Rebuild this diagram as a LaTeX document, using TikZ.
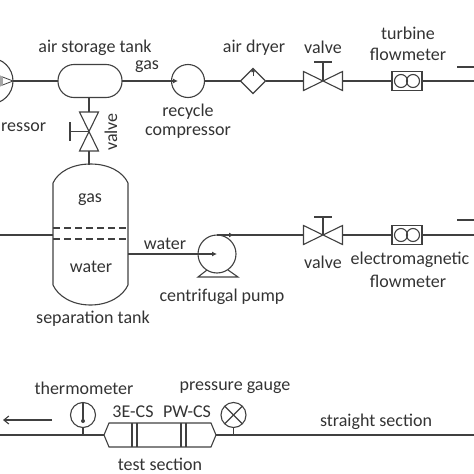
\documentclass[tikz,border=0pt]{standalone}
\usepackage{fontspec}
\setmainfont{Carlito}
\usetikzlibrary{arrows.meta, calc, positioning, shapes.geometric}
\definecolor{linegray}{HTML}{404040}
\definecolor{textgray}{HTML}{333333}

\begin{document}
\begin{tikzpicture}[
    x=1pt, y=-1pt,
    pipe/.style={linegray, line width=1.1pt, outer sep=0pt},
    flow/.style={pipe, -{Latex[length=5pt,width=5pt]}},
    lbl/.style={textgray, font=\fontsize{18}{21}\selectfont, inner sep=0pt},
    valvebox/.style={minimum width=39pt, minimum height=19pt, inner sep=0pt, outer sep=0pt},
    meter/.style={pipe, draw, minimum width=30pt, minimum height=19pt, inner sep=0pt},
    gauge/.style={pipe, draw, circle, minimum size=25pt, inner sep=0pt},
]
\def\yGas{81}     % gas line
\def\yWater{235}  % water line
\def\yTest{435}   % test line
\def\xv{323}      % x of the two horizontal valves
\def\xm{407}      % x of the two flowmeters

\clip (0,0) rectangle (474,474);

% --- gas line ---
\node[pipe, draw, circle, minimum size=46pt, inner sep=0pt] (mainComp) at (-10,\yGas) {};
\node[pipe, draw, minimum width=64pt, minimum height=33pt, rounded corners=16pt] (airTank) at (90,\yGas) {};
\node[pipe, draw, circle, minimum size=33pt, inner sep=0pt] (recycle) at (188,\yGas) {};
\node[pipe, draw, diamond, aspect=1, minimum size=25pt, inner sep=0pt] (dryer) at (253,\yGas) {};
\node[valvebox] (valveGas) at (\xv,\yGas) {};
\node[meter] (meterGas) at (\xm,\yGas) {};
\coordinate (recycleIn) at (178,\yGas);
\coordinate (gasEnd) at (474,\yGas);
\coordinate (handleGas) at (\xv,62);

\draw[pipe] (mainComp.east) -- (airTank.west);
\draw[flow] (airTank.east) -- (recycleIn);
\draw[pipe] (recycle.east) -- (dryer.west);
\draw[pipe] (dryer.east) -- (valveGas.west);
\draw[pipe] (valveGas.east) -- (meterGas.west);
\draw[pipe] (meterGas.east) -- (gasEnd);
\draw[pipe] (457,67) -- (474,67);

% compressor mark, cut by the edge
\draw[pipe, line width=.8pt] (13,\yGas) -- (0,76) (13,\yGas) -- (0,86);
\fill[gray!70] (0,76) rectangle (3,86);

% dryer mark
\draw[pipe, line width=.8pt, -{Latex[length=3.5pt,width=4pt]}] (dryer.center) ++(0,-5) -- (dryer.north);

% --- valve on the gas line ---
\draw[pipe] (valveGas.north west) -- (valveGas.south east) -- (valveGas.north east) -- (valveGas.south west) -- cycle;
\draw[pipe] (valveGas.center) -- (handleGas);
\draw[pipe] ($(handleGas)+(-9,0)$) -- ($(handleGas)+(9,0)$);

% --- link valve between the tanks ---
\node[valvebox, rotate=90] (valveLink) at (89,131.5) {};
\coordinate (sepTop) at (89,164.5);
\coordinate (handleLink) at (70,131.5);
\draw[pipe] (valveLink.north west) -- (valveLink.south east) -- (valveLink.north east) -- (valveLink.south west) -- cycle;
\draw[pipe] (valveLink.center) -- (handleLink);
\draw[pipe] ($(handleLink)+(0,-9.5)$) -- ($(handleLink)+(0,9.5)$);
\draw[pipe] (airTank.south -| valveLink) -- (valveLink.east);
\draw[pipe] (valveLink.west) -- (sepTop);

% --- separation tank ---
\draw[pipe] (53,183) .. controls (58,172) and (72,164) .. (90.5,164)
      .. controls (109,164) and (123,172) .. (128,183) -- (128,285)
      .. controls (123,296) and (109,305) .. (90.5,305)
      .. controls (72,305) and (58,296) .. (53,285) -- cycle;
\draw[pipe, dashed, dash pattern=on 7pt off 4pt] (53,228) -- (128,228);
\draw[pipe, dashed, dash pattern=on 7pt off 4pt] (53,239) -- (128,239);

% --- water line ---
\node[pipe, draw, circle, minimum size=38pt, inner sep=0pt] (pump) at (217,254) {};
\node[valvebox] (valveWater) at (\xv,\yWater) {};
\node[meter] (meterWater) at (\xm,\yWater) {};
\coordinate (sepLeft) at (53,\yWater);
\coordinate (waterStart) at (0,\yWater);
\coordinate (sepOut) at (128,254);
\coordinate (waterEnd) at (474,\yWater);
\coordinate (handleWater) at (\xv,217);

\draw[pipe] (waterStart) -- (sepLeft);
\draw[flow] (sepOut) -- (pump.center);
\draw[pipe] (pump.north) -- (valveWater.west);
\draw[flow] (pump.north) -- ++(17,0);
\draw[pipe] (valveWater.east) -- (meterWater.west);
\draw[pipe] (meterWater.east) -- (waterEnd);
\draw[pipe] (457,220) -- (474,220);
\draw[pipe] (valveWater.north west) -- (valveWater.south east) -- (valveWater.north east) -- (valveWater.south west) -- cycle;
\draw[pipe] (valveWater.center) -- (handleWater);
\draw[pipe] ($(handleWater)+(-9,0)$) -- ($(handleWater)+(9,0)$);

% pump feet
\draw[pipe] (207,270) -- (198,277) -- (238,277) -- (228,270);

% flowmeter rings
\foreach \ym in {\yGas,\yWater}{
    \draw[pipe] (\xm-6,\ym) circle (6.5);
    \draw[pipe] (\xm+6,\ym) circle (6.5);
}

% --- test line ---
\node[gauge] (thermo) at (83,415) {};
\node[gauge] (press) at (233.5,415) {};
\coordinate (testStart) at (0,\yTest);
\coordinate (secLeft) at (104,\yTest);
\coordinate (secRight) at (216,\yTest);
\coordinate (testEnd) at (474,\yTest);
\coordinate (thermoTap) at (83,\yTest);
\coordinate (pressTap) at (233.5,\yTest);
\coordinate (arrowTail) at (52,420);
\coordinate (arrowHead) at (3,420);

\draw[pipe] (testStart) -- (secLeft);
\draw[pipe] (secRight) -- (testEnd);
\draw[pipe] (thermo.south) -- (thermoTap);
\draw[pipe] (press.south) -- (pressTap);
\draw[pipe, -{Straight Barb[length=5pt,width=8pt]}] (arrowTail) -- (arrowHead);

% test section
\draw[pipe] (104,\yTest) -- (109,423) -- (211,423) -- (216,\yTest) -- (211,447) -- (109,447) -- cycle;
\foreach \xs in {132,137,181,186}{
    \draw[pipe] (\xs,423) -- (\xs,447);
}

% thermometer and gauge marks
\draw[pipe] (thermo.north) -- (83,421);
\fill[linegray] (83,421) circle (2);
\draw[pipe] (press.north west) -- (press.south east);
\draw[pipe] (press.north east) -- (press.south west);

% labels
\node[lbl] (lblAirTank) at (95,48) {air storage tank};
\node[lbl] (lblGas) at (147,67) {gas};
\node[lbl] (lblRecycle) at (188,112) {recycle};
\node[lbl] (lblRecComp) at (188,133) {compressor};
\node[lbl, anchor=west] (lblMain) at (1,127) {ressor};
\node[lbl] (lblDryer) at (254,48) {air dryer};
\node[lbl] (lblValveGas) at (\xv,47) {valve};
\node[lbl] (lblTurbine) at (408,33) {turbine};
\node[lbl] (lblMeterGas) at (408,54) {flowmeter};
\node[lbl, rotate=90] (lblValveLink) at (111,132) {valve};
\node[lbl] (lblSepGas) at (90,200) {gas};
\node[lbl] (lblSepWater) at (91,267) {water};
\node[lbl] (lblWater) at (165,244) {water};
\node[lbl] (lblSep) at (93,319) {separation tank};
\node[lbl] (lblPump) at (222,297) {centrifugal pump};
\node[lbl] (lblValveWater) at (\xv,262) {valve};
\node[lbl] (lblEm) at (410,260) {electromagnetic};
\node[lbl] (lblMeterWater) at (408,281) {flowmeter};
\node[lbl] (lblThermo) at (84,388) {thermometer};
\node[lbl] (lblPress) at (235,388) {pressure gauge};
\node[lbl] (lbl3E) at (133,412) {3E-CS};
\node[lbl] (lblPW) at (187,412) {PW-CS};
\node[lbl] (lblTest) at (160,464) {test section};
\node[lbl] (lblStraight) at (376,422) {straight section};
\end{tikzpicture}
\end{document}
